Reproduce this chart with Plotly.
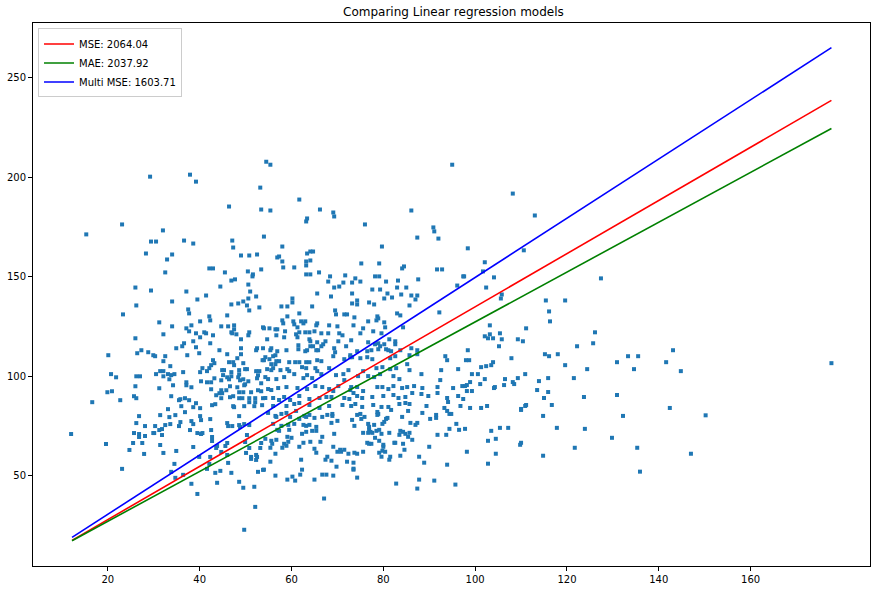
import plotly.graph_objects as go

# scatter samples (feature, target)
points = [
    (29.2, 200.2), (37.9, 201.2), (39.2, 197.7), (53.2, 194.7), (46.4, 185.2), (53.4, 183.7),
    (15.3, 171.2), (23.1, 176.2), (32.0, 173.2), (29.4, 167.6), (30.5, 167.6), (36.6, 168.1),
    (38.6, 166.6), (47.1, 168.1), (47.3, 164.6), (28.3, 161.6), (34.0, 161.1), (32.9, 158.6),
    (49.0, 160.6), (50.8, 160.6), (52.5, 161.1), (32.5, 152.1), (42.1, 154.1), (42.9, 154.1),
    (45.5, 152.1), (50.5, 152.6), (51.6, 151.1), (51.5, 150.1), (53.4, 153.6), (47.7, 148.6),
    (26.0, 144.5), (29.4, 143.0), (37.1, 142.5), (44.5, 145.0), (46.9, 148.0), (50.6, 146.0),
    (52.3, 140.0), (51.0, 142.5), (41.4, 140.5), (39.5, 138.5), (34.0, 137.5), (26.2, 135.5),
    (46.9, 136.0), (48.4, 136.5), (49.5, 137.5), (50.6, 139.0), (50.3, 135.5), (50.8, 133.0),
    (53.0, 134.5), (37.5, 133.5), (37.7, 131.5), (23.3, 131.0), (42.1, 130.0), (46.0, 130.5),
    (42.3, 128.0), (40.1, 127.5), (31.2, 127.0), (34.0, 125.0), (38.2, 125.5), (37.1, 124.0),
    (37.7, 122.5), (44.7, 125.0), (46.2, 125.0), (47.5, 125.5), (47.5, 123.5), (46.9, 122.0),
    (47.1, 121.5), (48.0, 121.0), (50.8, 122.0), (50.6, 120.5), (53.8, 124.5), (39.2, 121.5),
    (41.0, 122.0), (41.4, 121.5), (42.9, 120.5), (32.1, 121.0), (40.1, 119.5), (26.0, 119.0),
    (38.6, 117.5), (36.6, 116.5), (36.2, 115.0), (34.9, 114.0), (42.3, 116.5), (39.2, 114.5),
    (49.0, 118.5), (27.3, 113.0), (26.4, 111.5), (28.8, 112.0), (29.9, 110.5), (30.3, 110.0),
    (32.5, 110.0), (37.3, 110.5), (39.9, 111.5), (44.3, 113.0), (46.0, 111.0), (49.0, 114.0),
    (49.0, 111.0), (52.5, 114.0), (52.3, 113.0), (53.8, 114.0), (20.1, 110.5), (48.2, 109.0),
    (32.1, 107.5), (42.9, 108.0), (43.2, 106.5), (46.4, 107.0), (47.3, 107.0), (47.5, 105.5),
    (49.5, 106.5), (53.7, 108.0), (33.6, 105.0), (42.5, 105.5), (42.1, 104.0), (40.6, 104.0),
    (41.6, 102.5), (40.1, 102.0), (44.9, 103.0), (45.3, 103.0), (45.1, 100.5), (46.9, 102.0),
    (48.6, 103.0), (49.9, 103.5), (50.3, 103.5), (52.3, 102.5), (53.0, 102.5), (31.4, 102.5),
    (32.1, 102.5), (30.5, 101.0), (33.1, 101.0), (33.8, 100.5), (34.5, 101.0), (36.4, 102.0),
    (20.7, 101.0), (21.8, 99.4), (26.2, 99.9), (27.0, 99.9), (32.1, 99.9), (33.4, 98.4),
    (40.3, 97.4), (41.6, 96.9), (42.5, 96.9), (43.2, 98.9), (44.7, 97.9), (46.0, 99.4),
    (46.4, 98.4), (46.9, 99.9), (48.6, 100.9), (48.4, 99.4), (48.8, 97.9), (49.5, 98.4),
    (50.6, 97.4), (52.5, 98.9), (52.7, 100.4), (53.4, 96.4), (37.1, 96.9), (37.1, 95.4),
    (34.2, 95.4), (38.2, 94.4), (26.0, 94.9), (31.2, 93.9), (42.5, 93.4), (46.6, 94.9),
    (48.2, 94.4), (49.7, 95.4), (49.9, 95.9), (44.7, 92.9), (44.3, 91.4), (44.9, 91.4),
    (45.8, 92.9), (48.6, 91.9), (49.5, 91.9), (51.2, 91.9), (52.7, 92.9), (53.4, 92.4),
    (20.9, 92.4), (19.9, 91.9), (43.6, 90.4), (44.7, 88.9), (46.6, 89.4), (47.3, 89.9),
    (48.6, 88.9), (49.3, 88.9), (50.8, 88.9), (52.1, 88.9), (53.8, 88.9), (25.7, 89.9),
    (26.2, 88.9), (33.8, 89.9), (35.8, 88.4), (35.5, 87.9), (36.8, 88.9), (37.7, 87.9),
    (22.7, 87.9), (16.6, 86.9), (39.2, 86.4), (50.8, 86.9), (52.1, 86.9), (36.0, 84.9),
    (38.6, 84.4), (40.1, 83.9), (42.7, 85.4), (43.4, 85.9), (47.3, 84.9), (47.5, 84.4),
    (49.7, 84.9), (51.9, 84.9), (53.6, 85.4), (33.1, 83.4),
    (12.0, 70.9), (19.6, 65.9), (26.8, 79.9), (26.2, 76.4), (31.4, 80.4), (33.4, 79.4),
    (34.7, 80.4), (36.8, 81.9), (40.1, 79.9), (40.3, 77.9), (42.3, 78.4), (38.2, 77.4),
    (38.6, 75.9), (35.8, 76.9), (35.5, 74.9), (33.6, 75.9), (32.5, 75.4), (30.3, 74.9),
    (28.1, 74.9), (31.8, 73.4), (31.2, 72.9), (30.1, 71.4), (29.9, 71.4), (31.8, 70.4),
    (25.7, 71.4), (26.8, 70.9), (26.8, 69.4), (28.1, 69.9), (25.5, 66.4), (27.5, 66.4),
    (31.4, 65.4), (24.7, 62.9), (27.9, 60.9), (32.1, 61.4), (23.1, 53.4), (34.9, 62.4),
    (34.5, 55.9), (33.8, 51.9), (34.7, 48.9), (36.4, 50.4), (38.2, 45.9), (39.5, 40.8),
    (37.9, 72.9), (39.5, 71.4), (40.3, 70.9), (40.6, 71.4), (42.5, 72.9), (42.7, 69.4),
    (42.7, 67.4), (43.8, 64.9), (43.6, 63.9), (44.7, 61.9), (45.6, 64.9), (46.0, 66.4),
    (46.0, 60.4), (38.6, 64.4), (39.9, 59.4), (42.3, 59.4), (42.1, 55.9), (41.6, 53.4),
    (43.4, 51.4), (44.5, 52.4), (43.8, 46.4), (46.2, 56.4), (46.9, 51.4), (48.6, 46.9),
    (49.5, 43.9), (46.0, 76.4), (46.2, 74.9), (47.1, 74.9), (48.6, 79.9), (48.6, 75.4),
    (48.8, 74.4), (49.7, 75.9), (50.8, 75.4), (50.3, 70.4), (49.9, 66.9), (50.8, 63.9),
    (50.1, 61.4), (51.2, 59.4), (51.2, 58.4), (52.3, 60.4), (52.5, 59.4), (52.3, 57.9),
    (53.2, 63.9), (53.4, 66.4), (53.8, 52.9), (52.7, 51.9), (51.9, 44.4), (52.1, 34.3),
    (49.7, 22.8),
    (54.5, 207.7), (55.4, 206.2), (95.0, 206.2), (61.7, 188.7), (55.4, 183.2), (66.2, 183.7),
    (69.1, 182.2), (69.3, 180.2), (63.2, 177.7), (63.4, 179.2), (76.0, 176.2), (86.1, 183.2),
    (90.9, 174.7), (91.1, 172.7), (92.0, 169.1), (87.4, 169.6), (54.0, 170.1), (58.0, 165.1),
    (79.7, 165.1), (63.4, 161.6), (64.1, 162.6), (64.7, 162.6), (56.9, 159.6), (57.3, 160.1),
    (58.0, 157.6), (63.2, 157.6), (64.1, 158.1), (63.2, 155.6), (58.2, 154.6), (60.6, 154.6),
    (75.2, 156.6), (79.1, 156.6), (84.1, 154.1), (84.5, 155.1), (91.7, 153.6), (92.8, 153.6),
    (66.0, 152.1), (63.2, 151.1), (64.1, 151.1), (68.4, 150.1), (71.7, 150.6), (73.9, 149.1),
    (78.2, 150.1), (79.1, 150.1), (87.6, 148.6), (97.4, 150.1),
    (68.0, 147.5), (69.3, 144.5), (70.4, 145.0), (71.3, 147.0), (73.2, 147.0), (75.0, 147.5),
    (77.6, 143.5), (79.3, 143.5), (83.0, 144.5), (85.0, 144.5), (86.1, 140.5), (83.9, 141.0),
    (81.9, 139.5), (80.6, 147.5), (83.2, 148.0), (96.1, 145.5), (65.6, 141.5), (68.6, 140.0),
    (73.2, 141.5), (73.2, 136.5), (74.3, 138.0), (74.3, 136.0), (76.9, 137.0), (78.0, 136.0),
    (80.2, 139.0), (80.9, 141.5), (87.4, 140.5), (85.7, 135.5), (87.0, 138.5), (57.8, 135.0),
    (59.1, 135.0), (60.2, 139.0), (60.2, 137.0), (64.5, 135.0), (69.5, 133.0), (69.7, 131.0),
    (71.5, 131.0), (72.1, 131.0), (73.7, 129.5), (78.7, 130.0), (78.9, 129.0), (83.0, 131.5),
    (83.7, 130.5), (92.2, 132.0), (59.1, 130.0), (61.7, 131.5), (58.0, 128.0), (58.2, 126.5),
    (60.4, 127.5), (60.6, 126.0), (62.1, 127.5), (62.6, 126.5), (63.0, 127.5), (65.6, 126.5),
    (65.4, 125.5), (68.2, 125.5), (70.0, 125.0), (73.5, 125.5), (75.6, 124.0), (76.7, 127.5),
    (78.5, 128.0), (80.2, 127.0), (80.4, 124.5), (84.3, 124.5), (54.0, 124.0), (55.2, 124.0),
    (56.5, 123.5), (56.9, 123.5), (58.6, 122.5), (61.3, 124.5), (61.0, 121.0), (61.7, 122.0),
    (63.0, 122.0), (63.9, 122.0), (65.0, 122.5), (66.5, 121.5), (68.0, 121.5), (70.4, 121.5),
    (75.0, 121.5), (77.8, 122.5), (79.6, 121.5), (54.7, 118.5), (56.7, 120.5), (58.4, 119.5),
    (61.3, 119.5), (63.9, 118.5), (64.1, 117.5), (65.6, 117.0), (67.4, 117.5), (66.9, 116.0),
    (66.5, 115.0), (70.2, 117.5), (71.1, 120.5), (73.0, 118.0), (76.7, 117.0), (78.2, 116.0),
    (78.9, 116.5), (79.3, 115.0), (80.2, 116.0), (81.3, 118.5), (82.6, 116.0), (82.6, 117.5),
    (55.6, 114.0), (55.4, 113.0), (56.9, 112.5), (58.9, 113.0), (61.5, 115.5), (61.5, 113.5),
    (63.0, 112.5), (63.4, 113.0), (64.1, 115.0), (64.7, 115.0), (65.4, 113.0), (65.8, 113.0),
    (69.3, 114.0), (69.5, 112.0), (71.9, 115.0), (72.8, 110.5), (74.3, 112.5), (76.5, 112.5),
    (77.4, 113.0), (78.9, 113.5), (80.6, 113.5), (81.1, 113.0), (81.7, 112.5), (83.7, 113.0),
    (86.1, 114.0), (87.4, 113.0), (54.3, 109.5), (55.2, 108.5), (56.0, 110.0), (56.5, 110.5),
    (54.0, 108.0), (55.6, 106.0), (56.5, 106.0), (56.7, 107.5), (57.3, 107.5), (59.5, 107.0),
    (60.8, 107.0), (61.7, 107.0), (63.2, 107.0), (63.9, 107.0), (65.6, 108.0), (66.5, 107.5),
    (69.1, 110.0), (71.5, 108.5), (72.8, 109.5), (73.2, 109.5), (75.0, 109.0), (76.5, 109.5),
    (77.6, 108.5), (81.5, 109.0), (82.6, 110.0), (85.7, 110.5), (87.4, 111.0), (93.5, 110.0),
    (93.9, 108.0), (54.7, 103.5), (55.6, 103.0), (56.0, 104.0), (57.6, 103.0), (59.1, 103.5),
    (59.5, 102.5), (62.3, 104.5), (63.2, 104.0), (65.2, 104.0), (65.6, 102.5), (68.2, 104.0),
    (71.3, 101.0), (72.4, 103.0), (75.6, 102.5), (78.5, 104.0), (79.8, 104.5), (81.5, 103.5),
    (82.8, 104.0), (85.2, 106.0), (85.7, 103.0), (92.6, 103.0), (96.3, 103.5), (54.3, 99.5),
    (54.9, 98.5), (56.7, 98.5), (58.4, 99.5), (60.6, 101.0), (62.6, 99.0), (63.4, 100.5),
    (64.5, 99.0), (66.5, 101.0), (69.7, 100.5), (71.5, 98.0), (74.5, 100.0), (76.7, 100.0),
    (78.0, 99.5), (79.3, 101.0), (82.2, 100.0), (83.5, 98.5), (88.3, 101.0), (92.4, 98.0),
    (54.9, 93.5), (55.6, 93.0), (57.1, 94.0), (58.9, 94.5), (61.3, 94.0), (63.4, 93.5),
    (65.2, 95.0), (66.7, 94.5), (68.2, 93.5), (69.1, 92.5), (70.2, 95.0), (72.8, 93.0),
    (73.0, 94.5), (74.3, 94.5), (75.6, 92.5), (78.7, 94.5), (79.8, 94.5), (81.1, 93.5),
    (82.2, 95.0), (84.1, 94.0), (85.2, 94.5), (86.7, 95.0), (88.5, 94.0), (91.8, 94.5),
    (95.2, 94.0), (97.2, 95.0), (54.3, 89.0), (56.0, 89.0), (57.3, 88.0), (58.4, 89.5),
    (59.7, 88.0), (61.7, 90.0), (63.9, 88.5), (66.1, 89.0), (67.6, 89.5), (68.7, 89.5),
    (71.5, 89.0), (72.6, 88.5), (73.5, 91.5), (74.3, 90.0), (75.4, 89.0), (77.6, 89.5),
    (80.0, 90.0), (82.2, 90.5), (83.3, 89.0), (84.8, 89.5), (86.3, 91.5), (88.3, 91.0),
    (89.8, 90.0), (91.8, 91.5), (93.9, 89.0), (96.3, 90.0), (97.4, 88.5), (56.0, 85.0),
    (58.9, 85.0), (60.6, 86.0), (61.7, 86.5), (63.9, 85.5), (66.1, 84.0), (68.2, 85.0),
    (71.1, 85.5), (73.0, 85.0), (73.9, 86.0), (75.4, 84.5), (77.8, 85.5), (79.6, 84.5),
    (81.1, 84.5), (83.5, 86.0), (84.8, 86.5), (85.7, 86.0), (89.4, 85.0), (93.3, 84.0),
    (94.1, 87.0), (96.8, 85.0),
    (54.9, 81.5), (56.5, 80.0), (56.7, 79.5), (57.8, 81.0), (58.9, 81.5), (59.7, 79.5),
    (61.0, 82.5), (61.7, 78.5), (62.8, 80.0), (63.2, 79.5), (63.9, 80.5), (65.0, 79.0),
    (66.7, 79.5), (67.8, 80.5), (68.9, 81.0), (68.9, 80.0), (70.0, 77.5), (68.7, 76.5),
    (56.0, 76.0), (57.8, 75.0), (59.3, 75.5), (59.5, 73.0), (60.6, 76.0), (62.6, 75.5),
    (63.2, 75.0), (63.9, 75.5), (65.4, 74.5), (57.3, 72.5), (56.9, 73.0), (62.3, 71.0),
    (63.2, 72.0), (64.5, 72.5), (65.4, 72.5), (54.3, 68.5), (55.6, 67.5), (55.8, 66.0),
    (56.7, 68.0), (59.1, 69.5), (60.0, 69.0), (59.3, 67.0), (58.4, 66.0), (58.9, 65.0),
    (58.0, 64.0), (55.4, 64.0), (56.5, 61.0), (61.7, 64.5), (62.6, 66.5), (64.1, 67.0),
    (65.0, 63.5), (65.4, 61.5), (66.3, 67.0), (66.7, 69.5), (69.3, 71.0), (69.1, 64.5),
    (70.0, 62.0), (70.8, 62.0), (71.5, 63.0), (70.6, 63.0), (72.4, 61.0), (73.7, 61.5),
    (74.3, 61.0), (75.6, 62.0), (55.4, 57.0), (62.1, 58.0), (62.3, 53.0), (54.0, 53.0),
    (56.5, 50.0), (59.1, 48.0), (60.2, 49.5), (60.8, 47.5), (61.9, 50.5), (65.0, 48.0),
    (66.7, 50.5), (67.6, 50.5), (69.1, 50.0), (67.4, 58.0), (67.8, 59.5), (68.7, 57.5),
    (69.8, 54.5), (72.1, 57.0), (73.5, 56.5), (73.5, 53.5), (73.5, 53.0), (74.3, 49.0),
    (67.1, 38.5), (73.2, 78.0), (73.7, 75.0), (74.3, 80.5), (75.2, 78.5), (75.9, 79.5),
    (75.0, 81.0), (78.7, 82.0), (78.9, 81.0), (78.7, 80.5), (80.2, 77.0), (80.6, 78.5),
    (80.9, 79.0), (79.8, 76.0), (78.0, 75.5), (76.7, 76.0), (76.9, 74.5), (76.9, 73.0),
    (77.2, 72.0), (76.7, 71.5), (75.6, 71.5), (77.6, 71.5), (78.5, 72.5), (79.1, 73.0),
    (79.6, 71.0), (78.2, 69.0), (79.1, 67.5), (81.3, 71.5), (76.5, 66.5), (76.9, 66.0),
    (77.4, 66.0), (80.0, 65.5), (80.0, 64.5), (79.8, 62.5), (79.1, 61.5), (80.4, 62.0),
    (79.6, 59.5), (81.5, 59.5), (81.3, 58.0), (82.4, 66.5), (82.6, 66.5), (83.5, 70.5),
    (83.7, 72.5), (84.3, 72.0), (84.8, 71.0), (85.7, 71.5), (85.4, 69.5), (86.3, 68.0),
    (84.3, 66.0), (84.6, 63.0), (83.7, 60.0), (84.1, 79.5), (81.7, 83.0), (85.4, 82.5),
    (85.9, 76.5), (87.0, 75.5), (87.4, 76.5), (88.5, 81.5), (90.2, 78.5), (91.5, 80.5),
    (91.5, 79.0), (93.9, 82.5), (94.4, 81.0), (94.8, 81.0), (95.9, 76.0), (96.5, 73.0),
    (94.4, 73.5), (93.7, 70.5), (91.8, 70.5), (90.0, 64.5), (87.8, 59.5), (88.9, 56.5),
    (93.9, 55.5), (87.8, 48.0), (87.4, 43.5), (91.1, 47.5), (95.7, 45.5), (82.8, 46.0),
    (108.2, 191.7), (113.0, 180.7), (98.4, 164.2), (110.6, 163.2), (102.1, 157.2), (101.7, 152.6),
    (104.1, 149.6), (97.6, 150.1), (127.4, 149.1),
    (102.4, 144.5), (105.8, 141.0), (105.6, 139.0), (115.4, 138.0), (119.6, 138.0), (116.1, 132.5),
    (116.3, 127.5), (103.2, 125.5), (111.1, 124.0), (105.4, 121.5), (103.2, 121.0), (102.1, 120.0),
    (102.8, 119.0), (103.9, 119.0), (105.8, 118.5), (109.3, 118.5), (110.4, 117.5), (126.1, 122.0),
    (125.7, 116.5), (122.2, 115.0), (105.2, 115.0), (98.4, 113.0), (115.2, 111.0), (116.1, 110.0),
    (118.0, 111.0), (98.0, 108.0), (98.7, 108.0), (107.9, 109.0), (103.9, 107.0), (103.5, 105.5),
    (102.4, 105.0), (101.3, 104.5), (119.6, 105.5), (124.4, 103.5), (130.9, 107.0), (133.3, 110.0),
    (135.5, 110.0), (134.6, 103.5), (99.3, 101.0), (100.6, 101.0), (102.1, 98.5), (110.9, 101.0),
    (109.3, 99.0), (106.5, 98.5), (108.2, 97.0), (108.5, 96.0), (106.3, 95.5), (104.3, 94.5),
    (104.1, 94.0), (101.1, 96.0), (98.9, 97.0), (98.2, 95.5), (97.8, 95.0), (98.2, 92.5),
    (99.3, 92.5), (113.9, 97.5), (115.9, 99.0), (121.5, 99.0), (113.5, 93.0), (115.9, 92.0),
    (115.0, 89.0), (123.7, 89.5), (130.9, 90.5), (116.7, 85.5), (111.1, 85.5), (110.9, 85.0),
    (110.0, 83.5), (102.6, 85.0), (101.3, 84.0), (98.9, 84.0),
    (110.0, 83.0), (114.8, 80.0), (132.2, 80.0), (97.8, 73.5), (103.5, 72.5), (105.4, 74.0),
    (107.2, 74.0), (117.8, 74.0), (123.9, 73.5), (102.8, 67.5), (104.5, 68.5), (110.0, 66.5),
    (109.8, 65.5), (129.8, 69.0), (121.7, 64.0), (135.3, 64.0), (98.2, 62.0), (104.5, 61.0),
    (102.8, 56.0), (114.8, 60.0), (135.9, 52.0),
    (143.1, 113.0), (141.6, 107.0), (144.8, 102.5), (142.4, 84.0), (177.6, 106.5),
    (147.0, 61.0), (150.2, 80.3),
]
scatter_x = [p[0] for p in points]
scatter_y = [p[1] for p in points]

# fitted regression lines (endpoints at min / max feature value)
line_x = [12.2, 177.6]
mse_y = [17.5, 238.5]
mae_y = [17.3, 224.4]
multi_y = [19.0, 265.0]

fig = go.Figure()
fig.add_trace(go.Scatter(
    x=scatter_x, y=scatter_y, mode="markers", showlegend=False,
    marker=dict(color="#1f77b4", size=4, symbol="square", line=dict(width=0)),
))
fig.add_trace(go.Scatter(x=line_x, y=mse_y, mode="lines", name="MSE: 2064.04",
                         line=dict(color="red", width=1.6)))
fig.add_trace(go.Scatter(x=line_x, y=mae_y, mode="lines", name="MAE: 2037.92",
                         line=dict(color="green", width=1.6)))
fig.add_trace(go.Scatter(x=line_x, y=multi_y, mode="lines", name="Multi MSE: 1603.71",
                         line=dict(color="blue", width=1.6)))

axis_style = dict(
    showgrid=False, zeroline=False, showline=True, mirror=True, automargin=False,
    linecolor="black", linewidth=1, ticks="outside", ticklen=4,
    tickcolor="black", tickfont=dict(size=10, color="black"),
)
fig.update_layout(
    width=877, height=590,
    margin=dict(l=33, r=7, t=23, b=24, autoexpand=False),
    paper_bgcolor="white", plot_bgcolor="white",
    font=dict(family="DejaVu Sans", color="black"),
    title=dict(text="Comparing Linear regression models", x=0.517, xanchor="center",
               y=0.98, yanchor="middle", font=dict(size=12), automargin=False),
    xaxis=dict(range=[3.7, 186], tickvals=[20, 40, 60, 80, 100, 120, 140, 160], **axis_style),
    yaxis=dict(range=[4.6, 277.4], tickvals=[50, 100, 150, 200, 250], **axis_style),
    legend=dict(x=0.006, y=0.99, xanchor="left", yanchor="top",
                bgcolor="rgba(255,255,255,0.8)", bordercolor="#cccccc", borderwidth=1,
                font=dict(size=10)),
)

# drop the default page margin so the figure sits at the window's corner
fig.write_html("out.html", config={"displayModeBar": False},
               post_script="document.body.style.margin='0';")
